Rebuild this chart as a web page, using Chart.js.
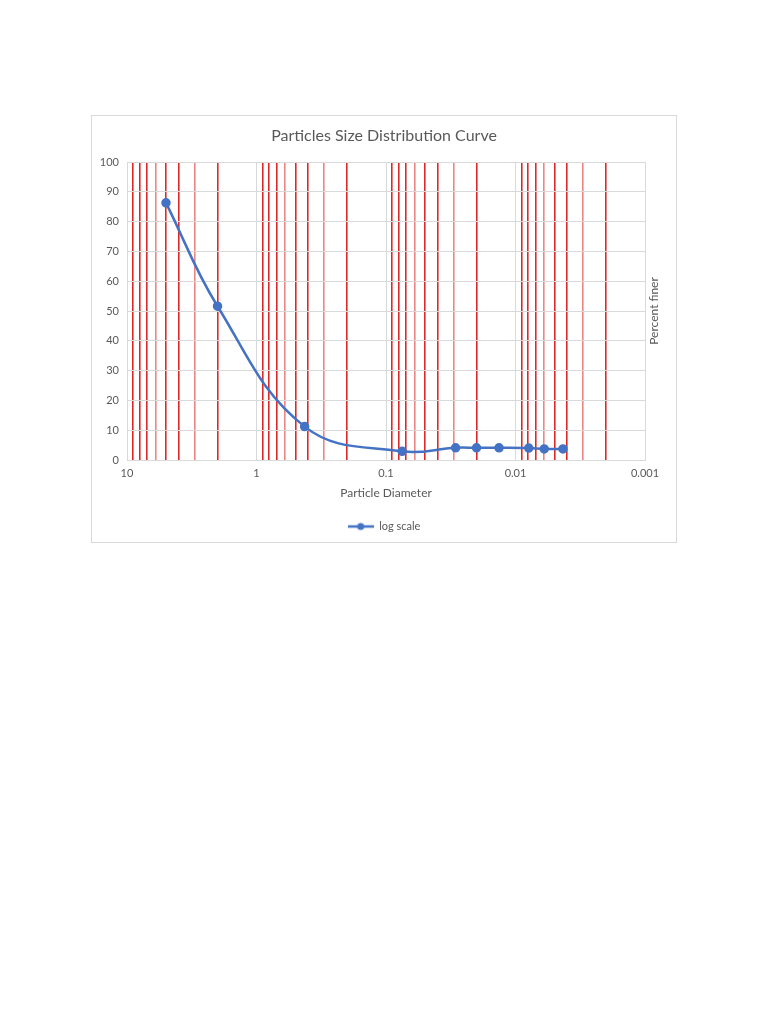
<!DOCTYPE html>
<html>
<head>
<meta charset="utf-8">
<script src="https://cdn.jsdelivr.net/npm/chart.js@4"></script>
<style>
  html, body { margin: 0; padding: 0; background: #fff; }
  body { width: 768px; height: 1024px; position: relative; }
  #box {
    position: absolute; left: 91px; top: 115px;
    width: 586px; height: 428px;
    border: 1px solid #d9d9d9; box-sizing: border-box;
  }
</style>
</head>
<body>
<div id="box"><canvas id="sizeChart"></canvas></div>
<script>
  // sieve / hydrometer results
  const diameters = [5, 2, 0.425, 0.075, 0.029, 0.020, 0.0134, 0.0079, 0.0060, 0.0043];
  const percentFiner = [86.3, 51.6, 11.2, 2.9, 4.1, 4.1, 4.1, 4.0, 3.7, 3.7];

  // axis ticks
  const majorTicks = [10, 1, 0.1, 0.01, 0.001];
  const majorLabels = ['10', '1', '0.1', '0.01', '0.001'];
  const minorSteps = [2, 3, 4, 5, 6, 7, 8, 9];
  const yTicks = [0, 10, 20, 30, 40, 50, 60, 70, 80, 90, 100];

  const textGray = '#595959';
  const lineBlue = '#4472C4';
  const fontName = 'Lato';

  // all log gridline positions (majors + 2..9 inside each decade)
  const xGridValues = [];
  majorTicks.forEach(m => {
    xGridValues.push(m);
    if (m < 10) minorSteps.forEach(s => xGridValues.push(+(s * m).toPrecision(3)));
  });
  xGridValues.sort((a, b) => a - b);

  function isMajor(v) {
    return majorTicks.some(m => Math.abs(m - v) < m * 1e-6);
  }

  // legend marker: line with a dot in the middle
  const marker = document.createElement('canvas');
  marker.width = 26;
  marker.height = 10;
  const mctx = marker.getContext('2d');
  mctx.strokeStyle = lineBlue;
  mctx.lineWidth = 2.5;
  mctx.beginPath();
  mctx.moveTo(0, 5);
  mctx.lineTo(26, 5);
  mctx.stroke();
  mctx.fillStyle = lineBlue;
  mctx.beginPath();
  mctx.arc(13, 5, 3.5, 0, Math.PI * 2);
  mctx.fill();

  const rightTitle = {
    id: 'rightTitle',
    afterDraw(chart) {
      const { ctx, chartArea } = chart;
      ctx.save();
      ctx.fillStyle = textGray;
      ctx.font = '12px ' + fontName;
      ctx.textAlign = 'center';
      ctx.textBaseline = 'middle';
      ctx.translate(chartArea.right + 9, (chartArea.top + chartArea.bottom) / 2);
      ctx.rotate(-Math.PI / 2);
      ctx.fillText('Percent finer', 0, 0);
      ctx.restore();
    }
  };

  const ctx = document.getElementById('sizeChart').getContext('2d');
  new Chart(ctx, {
    type: 'line',
    data: {
      datasets: [{
        label: 'log scale',
        data: diameters.map((d, i) => ({ x: d, y: percentFiner[i] })),
        borderColor: lineBlue,
        backgroundColor: lineBlue,
        borderWidth: 2.5,
        pointRadius: 3.5,
        pointHoverRadius: 3.5,
        tension: 0.4,
        fill: false
      }]
    },
    options: {
      responsive: true,
      maintainAspectRatio: false,
      animation: false,
      layout: { padding: 0 },
      scales: {
        x: {
          type: 'logarithmic',
          reverse: true,
          min: 0.001,
          max: 10,
          afterBuildTicks: scale => {
            scale.ticks = xGridValues.map(v => ({ value: v, major: isMajor(v) }));
          },
          afterFit: scale => { scale.height = 48; },
          ticks: {
            autoSkip: false,
            maxRotation: 0,
            padding: 7,
            color: textGray,
            font: { family: fontName, size: 11 },
            callback: function(value) {
              const i = majorTicks.findIndex(m => Math.abs(m - value) < m * 1e-6);
              return i >= 0 ? majorLabels[i] : '';
            }
          },
          grid: {
            drawTicks: false,
            lineWidth: function(context) {
              const v = context.tick ? context.tick.value : 1;
              return isMajor(v) ? 1 : 1.6;
            },
            color: function(context) {
              const v = context.tick ? context.tick.value : 1;
              if (isMajor(v)) return '#d9d9d9';
              const sig = Math.round(v / Math.pow(10, Math.floor(Math.log10(v) + 1e-9)));
              return (sig === 3 || sig === 6) ? 'rgba(236, 120, 120, 0.9)' : 'rgb(222, 40, 40)';
            }
          },
          border: { color: '#d9d9d9' },
          title: {
            display: true,
            text: 'Particle Diameter',
            color: textGray,
            font: { family: fontName, size: 12 },
            padding: { top: 0, bottom: 8 }
          }
        },
        y: {
          min: 0,
          max: 100,
          afterBuildTicks: scale => {
            scale.ticks = yTicks.map(v => ({ value: v }));
          },
          afterFit: scale => { scale.width = 35; },
          ticks: {
            padding: 8,
            color: textGray,
            font: { family: fontName, size: 11 }
          },
          grid: { drawTicks: false, color: '#d9d9d9' },
          border: { display: false }
        },
        // empty strip on the right, keeps title and legend centred on the whole box
        yRight: {
          position: 'right',
          afterFit: scale => { scale.width = 31; },
          ticks: { display: false },
          grid: { display: false },
          border: { display: false }
        }
      },
      plugins: {
        title: {
          display: true,
          text: 'Particles Size Distribution Curve',
          color: textGray,
          font: { family: fontName, size: 16, weight: 'normal' },
          padding: { top: 10, bottom: 16.8 }
        },
        legend: {
          position: 'bottom',
          labels: {
            color: textGray,
            font: { family: fontName, size: 11 },
            usePointStyle: true,
            pointStyleWidth: 26,
            padding: 13,
            generateLabels: function(chart) {
              return chart.data.datasets.map((ds, i) => ({
                text: ds.label,
                pointStyle: marker,
                fillStyle: lineBlue,
                strokeStyle: lineBlue,
                lineWidth: 0,
                fontColor: textGray,
                hidden: !chart.isDatasetVisible(i),
                datasetIndex: i
              }));
            }
          }
        },
        tooltip: { enabled: false }
      }
    },
    plugins: [rightTitle]
  });
</script>
</body>
</html>
